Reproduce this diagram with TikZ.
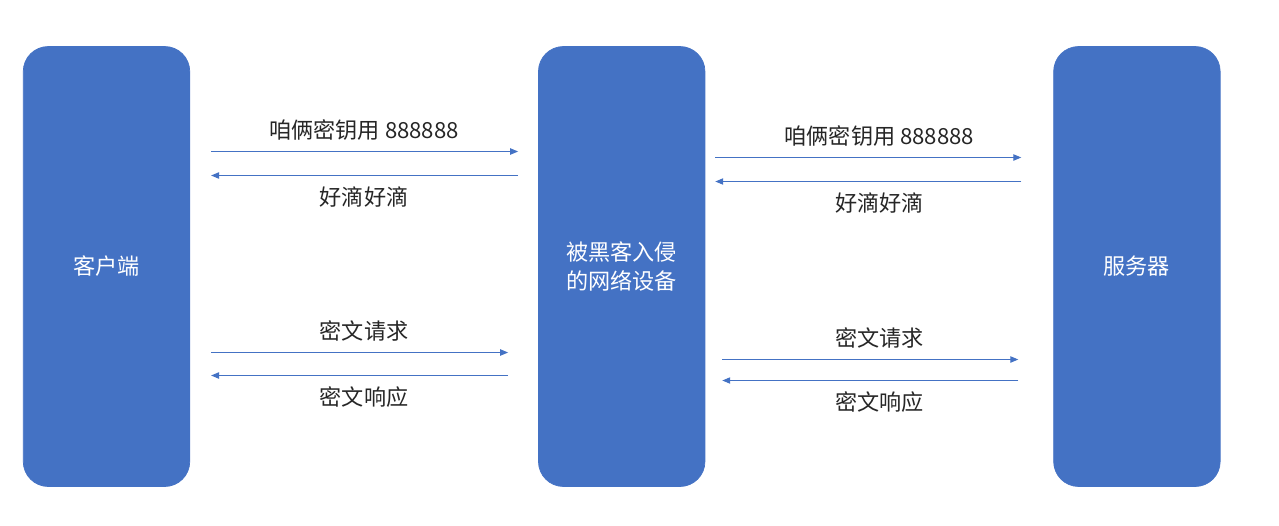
\documentclass[tikz,border=0pt]{standalone}
\usepackage{fontspec}
\setmainfont{Noto Sans CJK SC}
\usetikzlibrary{positioning, arrows.meta}
\definecolor{boxblue}{RGB}{68, 114, 196}
\definecolor{labelgray}{RGB}{38, 38, 38}

\begin{document}
\begin{tikzpicture}[node distance=6.96cm, every node/.style={font=\fontsize{12.6}{16}\selectfont}]
    \tikzstyle{party} = [rectangle, minimum width=3.33cm, minimum height=8.8cm, rounded corners=0.5cm, fill=boxblue, draw=boxblue, text=white, align=center, inner sep=0pt]
    \tikzstyle{msg} = [draw=boxblue, line width=0.6pt, -{Triangle[length=4.5pt, width=3.6pt]}]
    \tikzstyle{lbl} = [inner sep=0pt, text=labelgray]

    \useasboundingbox (0,0) rectangle (25.58,-10.5);

    % Nodes
    \node (client) [party] at (2.13,-5.33) {客户端};
    \node (hacked) [party, right=of client] {被黑客入侵\\的网络设备};
    \node (server) [party, right=of hacked] {服务器};

    % Arrows: client <-> hacked device
    \draw [msg, shorten <=0.42cm, shorten >=0.4cm] ([yshift=2.3cm]client.east) -- node[lbl, above=6pt] (keyL) {咱俩密钥用 888888} ([yshift=2.3cm]hacked.west);
    \draw [msg, shorten <=0.4cm, shorten >=0.42cm] ([yshift=1.82cm]hacked.west) -- node[lbl, below=6pt] (okL) {好滴好滴} ([yshift=1.82cm]client.east);
    \draw [msg, shorten <=0.42cm, shorten >=0.6cm] ([yshift=-1.72cm]client.east) -- node[lbl, above=6pt] (reqL) {密文请求} ([yshift=-1.72cm]hacked.west);
    \draw [msg, shorten <=0.6cm, shorten >=0.42cm] ([yshift=-2.18cm]hacked.west) -- node[lbl, below=6pt] (resL) {密文响应} ([yshift=-2.18cm]client.east);

    % Arrows: hacked device <-> server
    \draw [msg, shorten <=0.2cm, shorten >=0.64cm] ([yshift=2.18cm]hacked.east) -- node[lbl, above=6pt] (keyR) {咱俩密钥用 888888} ([yshift=2.18cm]server.west);
    \draw [msg, shorten <=0.64cm, shorten >=0.2cm] ([yshift=1.7cm]server.west) -- node[lbl, below=6pt] (okR) {好滴好滴} ([yshift=1.7cm]hacked.east);
    \draw [msg, shorten <=0.34cm, shorten >=0.7cm] ([yshift=-1.86cm]hacked.east) -- node[lbl, above=6pt] (reqR) {密文请求} ([yshift=-1.86cm]server.west);
    \draw [msg, shorten <=0.7cm, shorten >=0.34cm] ([yshift=-2.28cm]server.west) -- node[lbl, below=6pt] (resR) {密文响应} ([yshift=-2.28cm]hacked.east);
\end{tikzpicture}
\end{document}
